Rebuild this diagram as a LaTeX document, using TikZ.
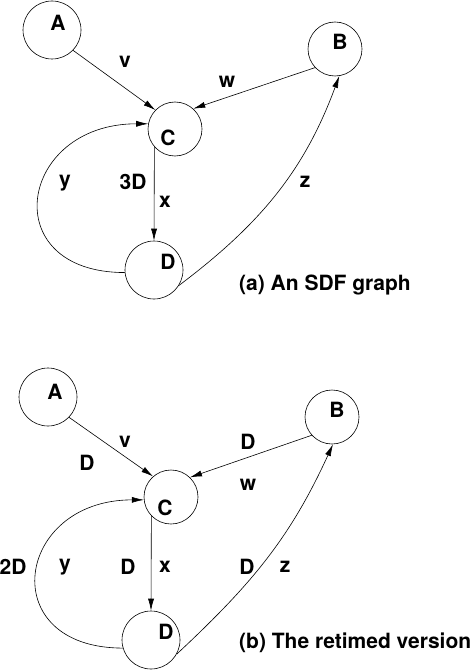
\documentclass[tikz,border=0pt]{standalone}
\usepackage{fontspec}
\setmainfont{TeX Gyre Heros}
\usetikzlibrary{arrows.meta}

\begin{document}
\begin{tikzpicture}[%
    x=1pt, y=-1pt,                        % pixel-like units, y runs downwards
    >={Latex[length=12pt,width=6pt]},     % slim filled arrow heads
    font=\fontsize{21}{21}\selectfont\bfseries, % one text size everywhere
    ]
\useasboundingbox (0,0) rectangle (474,671);
% -------------------------------------------------
% A few styles
\tikzset{
  base/.style={draw, line width=0.6pt, circle, inner sep=0pt},
  actor/.style={base, minimum size=58pt},
  small/.style={base, minimum size=54pt},
  % connector and label styles
  arc/.style={->, line width=0.6pt},
  lbl/.style={inner sep=0pt}
}
% -------------------------------------------------
% (a) the SDF graph
\node [actor, label={[xshift=6pt,yshift=7pt]center:A}] (A1) at (52,30) {};
\node [small, label={[xshift=5pt,yshift=7pt]center:B}] (B1) at (335,49) {};
\node [small, label={[xshift=-7pt,yshift=-9pt]center:C}] (C1) at (175,129) {};
\node [actor, label={[xshift=14pt,yshift=8pt]center:D}] (D1) at (154,270) {};

\draw[arc] (A1.-44) -- (C1.136);		%A,C,v
\draw[arc] (B1.223) -- (C1.48);		%B,C,w
\draw[arc] (C1.221) -- (D1.north);		%C,D,x
\draw[arc] (D1.185) .. controls +(-130,0) and +(-130,0) .. (C1.169);	%D,C,y
\draw[arc] (D1.-32) .. controls +(81,-61) and +(-35,95) .. (B1.279);	%D,B,z

\node[lbl] (v1) at (125,62) {v};
\node[lbl] (w1) at (227,82) {w};
\node[lbl] (d1x) at (133,182) {3D};
\node[lbl] (x1) at (165,202) {x};
\node[lbl] (y1) at (65,183) {y};
\node[lbl] (z1) at (305,182) {z};
\node[lbl, anchor=west] (capa) at (239,285) {(a) An SDF graph};

% -------------------------------------------------
% (b) the retimed version
\node [actor, label={[xshift=7pt,yshift=5pt]center:A}] (A2) at (48,397) {};
\node [small, label={[xshift=5pt,yshift=7pt]center:B}] (B2) at (332,417) {};
\node [small, label={[xshift=-6pt,yshift=-11pt]center:C}] (C2) at (171,497) {};
\node [actor, label={[xshift=15pt,yshift=8pt]center:D}] (D2) at (151,640) {};

\draw[arc] (A2.-44) -- (C2.131);		%A,C,v,D
\draw[arc] (B2.222) -- (C2.46);		%B,C,w,D
\draw[arc] (C2.224) -- (D2.north);		%C,D,x,D
\draw[arc] (D2.196) .. controls +(-129,0) and +(-129,0) .. (C2.186);	%D,C,y,2D
\draw[arc] (D2.-29) .. controls +(75,-70) and +(-43,94) .. (B2.272);	%D,B,z,D

\node[lbl] (v2) at (125,442) {v};
\node[lbl] (d2v) at (87,463) {D};
\node[lbl] (d2w) at (248,442) {D};
\node[lbl] (w2) at (248,485) {w};
\node[lbl] (d2x) at (128,567) {D};
\node[lbl] (x2) at (165,567) {x};
\node[lbl] (d2y) at (13,567) {2D};
\node[lbl] (y2) at (65,567) {y};
\node[lbl] (d2z) at (247,567) {D};
\node[lbl] (z2) at (285,567) {z};
\node[lbl, anchor=west] (capb) at (239,643) {(b) The retimed version};

% -------------------------------------------------
\end{tikzpicture}
\end{document}
